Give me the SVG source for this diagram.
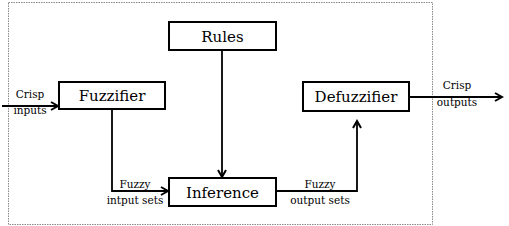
<svg xmlns="http://www.w3.org/2000/svg" width="509" height="226" viewBox="0 0 509 226">
<defs>
<marker id="ah" markerWidth="10" markerHeight="10" refX="8" refY="5" orient="auto" markerUnits="userSpaceOnUse">
<path d="M1,1 L8,5 L1,9" fill="none" stroke="#000" stroke-width="2"/>
</marker>
<style>
.box{fill:#fff;stroke:#000;stroke-width:2}
text{font-family:'DejaVu Serif','Liberation Serif',serif;fill:#000;text-anchor:middle}
.nl{font-size:15px}
.sl{font-size:10.5px}
.c{fill:none;stroke:#000;stroke-width:1.8;marker-end:url(#ah)}
</style>
</defs>
<rect x="8.5" y="2.5" width="424" height="222" fill="none" stroke="#888" stroke-width="1" stroke-dasharray="1.5,1"/>
<g id="connectors">
<path class="c" d="M2,106 H58"/>
<path class="c" d="M112,109 V191 H168"/>
<path class="c" d="M222,50 V177"/>
<path class="c" d="M276,191 H357 V121"/>
<path class="c" d="M409,97 H502"/>
</g>
<g id="rules"><rect class="box" x="169" y="22" width="107" height="28"/><text class="nl" x="222.5" y="42">Rules</text></g>
<g id="fuzzifier"><rect class="box" x="59" y="82" width="106" height="27"/><text class="nl" x="112" y="101">Fuzzifier</text></g>
<g id="defuzzifier"><rect class="box" x="303" y="82" width="106" height="29"/><text class="nl" x="356" y="102">Defuzzifier</text></g>
<g id="inference"><rect class="box" x="169" y="178" width="107" height="28"/><text class="nl" x="222.5" y="198">Inference</text></g>
<g id="labels">
<text class="sl" x="30" y="98">Crisp</text>
<text class="sl" x="30" y="114">inputs</text>
<text class="sl" x="135" y="188">Fuzzy</text>
<text class="sl" x="135" y="204">intput sets</text>
<text class="sl" x="320" y="188">Fuzzy</text>
<text class="sl" x="320" y="204">output sets</text>
<text class="sl" x="457" y="89">Crisp</text>
<text class="sl" x="457" y="106">outputs</text>
</g>
</svg>
